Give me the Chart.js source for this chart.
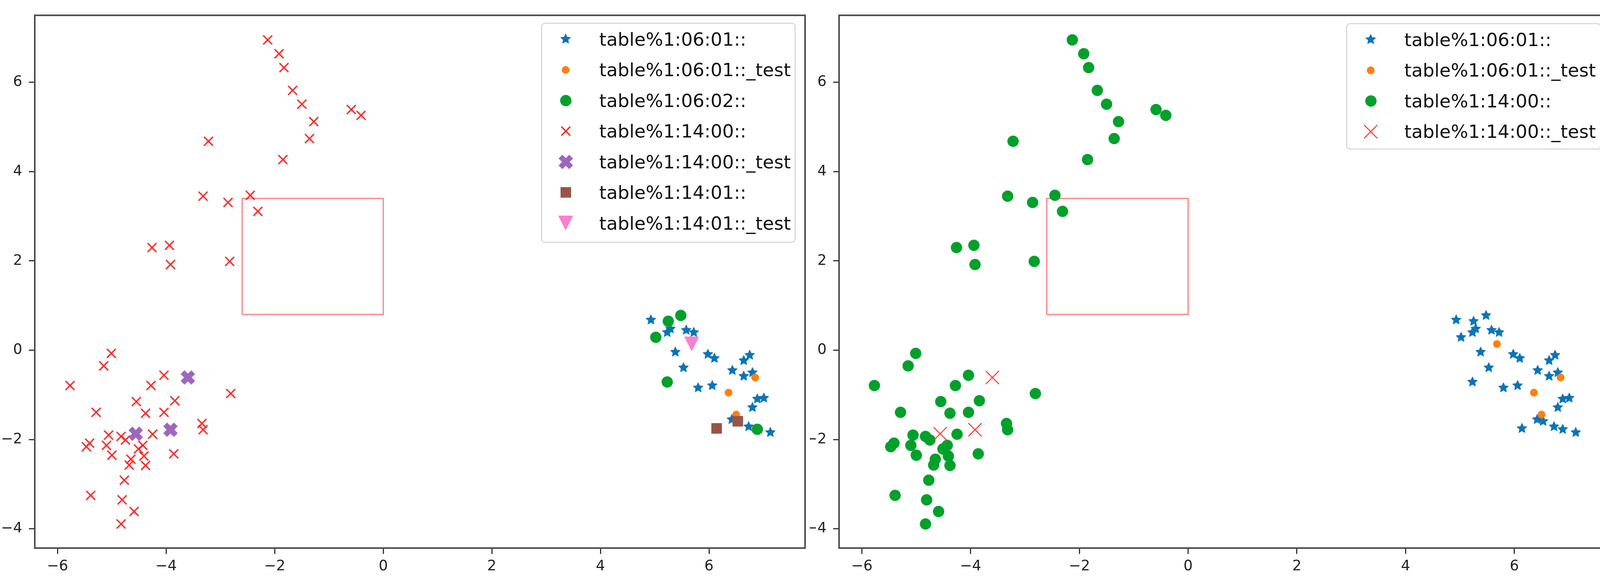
<!DOCTYPE html>
<html>
<head>
<meta charset="utf-8">
<script src="https://cdn.jsdelivr.net/npm/chart.js@4.4.1/dist/chart.umd.min.js"></script>
<style>
  html, body { margin: 0; padding: 0; background: #fff; }
  #page { position: relative; width: 4146px; height: 1495px; overflow: hidden; }
  .panel { position: absolute; top: 0; width: 2073px; height: 1495px; }
  .panel canvas.plot { position: absolute; left: 0; top: 0; }
  .legend { position: absolute; box-sizing: border-box; border: 3px solid #d9d9d9; border-radius: 10px;
            background: rgba(255,255,255,0.85); font-family: 'DejaVu Sans'; font-size: 47px; color: #111; }
  .legend .row { position: absolute; left: 0; right: 0; height: 70px; display: flex; align-items: center; }
  .legend .cell { width: 120px; display: flex; justify-content: center; align-items: center; }
  .legend .cell canvas { display: block; }
  .legend span { margin-left: 26px; white-space: nowrap; }
</style>
</head>
<body>
<div id="page">
  <div class="panel" id="leftPanel" style="left:0"><canvas class="plot" id="leftChart" width="2073" height="1495"></canvas></div>
  <div class="panel" id="rightPanel" style="left:2073px"><canvas class="plot" id="rightChart" width="2073" height="1495"></canvas></div>
</div>
<script>
// values
const xTicks = [-6, -4, -2, 0, 2, 4, 6];
const yTicks = [-4, -2, 0, 2, 4, 6];
const xMin = -6.42, xMax = 7.77, yMin = -4.43, yMax = 7.5;

// red square, corners in data units
const boxX = [-2.6, 0, 0, -2.6, -2.6];
const boxY = [0.8, 0.8, 3.4, 3.4, 0.8];

const t0601X = [4.93, 5.23, 5.29, 5.58, 5.72, 5.38, 5.98, 6.10, 5.53, 6.64, 6.75, 6.43, 6.64, 6.80, 5.80, 6.06, 6.89, 7.01, 6.80, 6.42, 6.73, 7.13];
const t0601Y = [0.68, 0.40, 0.48, 0.45, 0.40, -0.04, -0.09, -0.18, -0.39, -0.23, -0.11, -0.45, -0.58, -0.50, -0.84, -0.79, -1.09, -1.07, -1.28, -1.55, -1.71, -1.84];

const t0601TestX = [6.85, 6.36, 6.50];
const t0601TestY = [-0.61, -0.95, -1.44];

const t0602X = [5.25, 5.48, 5.02, 5.23, 6.89];
const t0602Y = [0.65, 0.78, 0.29, -0.71, -1.77];

const t1400X = [-2.13, -1.92, -1.83, -1.67, -1.50, -1.28, -1.36, -0.59, -0.41, -3.22, -1.85, -3.32, -2.86, -2.45, -2.31, -4.26, -3.94, -3.92, -2.83,
                -5.01, -5.15, -5.77, -4.04, -4.28, -4.55, -3.84, -5.29, -4.38, -4.04, -2.81, -3.34, -3.32, -5.06, -4.83, -4.75, -5.41, -5.47, -5.10,
                -4.25, -4.43, -4.51, -4.41, -5.00, -4.65, -4.68, -4.38, -3.86, -4.77, -5.39, -4.81, -4.59, -4.83];
const t1400Y = [6.95, 6.64, 6.33, 5.82, 5.51, 5.12, 4.74, 5.39, 5.26, 4.68, 4.27, 3.45, 3.31, 3.47, 3.11, 2.30, 2.35, 1.92, 1.99,
                -0.07, -0.35, -0.79, -0.56, -0.79, -1.15, -1.13, -1.39, -1.41, -1.39, -0.97, -1.64, -1.78, -1.90, -1.93, -2.01, -2.08, -2.16, -2.13,
                -1.88, -2.13, -2.21, -2.37, -2.35, -2.44, -2.57, -2.58, -2.32, -2.91, -3.25, -3.35, -3.61, -3.89];

const t1400TestX = [-3.60, -3.92, -4.56];
const t1400TestY = [-0.61, -1.78, -1.87];

const t1401X = [6.14, 6.53];
const t1401Y = [-1.75, -1.59];

const t1401TestX = [5.68];
const t1401TestY = [0.14];

// right panel: the same points, regrouped
const rStarX = [...t0601X, ...t0602X, ...t1401X];
const rStarY = [...t0601Y, ...t0602Y, ...t1401Y];
const rTestX = [...t0601TestX, ...t1401TestX];
const rTestY = [...t0601TestY, ...t1401TestY];

// marker images (matplotlib-like shapes)
function makeMarker(kind, half, color, lw) {
  const pad = 4;
  const s = Math.ceil(half * 2 + pad * 2);
  const c = document.createElement('canvas');
  c.width = s; c.height = s;
  const g = c.getContext('2d');
  const m = s / 2;
  g.fillStyle = color; g.strokeStyle = color; g.lineWidth = lw || 1;
  g.lineJoin = 'round';
  g.beginPath();
  if (kind === 'star') {
    for (let i = 0; i < 10; i++) {
      const r = i % 2 ? half * 0.47 : half;
      const a = -Math.PI / 2 + i * Math.PI / 5;
      g.lineTo(m + r * Math.cos(a), m + r * Math.sin(a));
    }
    g.closePath(); g.fill(); g.stroke();
  } else if (kind === 'dot') {
    g.arc(m, m, half, 0, Math.PI * 2); g.fill();
  } else if (kind === 'square') {
    g.rect(m - half, m - half, half * 2, half * 2); g.fill();
  } else if (kind === 'x') {
    g.moveTo(m - half, m - half); g.lineTo(m + half, m + half);
    g.moveTo(m + half, m - half); g.lineTo(m - half, m + half);
    g.stroke();
  } else if (kind === 'X') {
    const pts = [[0.25, 0], [0.5, 0.25], [0.75, 0], [1, 0.25], [0.75, 0.5], [1, 0.75], [0.75, 1], [0.5, 0.75], [0.25, 1], [0, 0.75], [0.25, 0.5], [0, 0.25]];
    pts.forEach(p => g.lineTo(m - half + p[0] * 2 * half, m - half + p[1] * 2 * half));
    g.closePath(); g.fill(); g.stroke();
  } else if (kind === 'tri_down') {
    g.moveTo(m - half, m - half); g.lineTo(m + half, m - half); g.lineTo(m, m + half);
    g.closePath(); g.fill();
  }
  return c;
}

const mStar = makeMarker('star', 13, '#0a74b8', 1.5);
const mOrange = makeMarker('dot', 10, '#ff7f0e');
const mGreen = makeMarker('dot', 14.5, '#00a02a');
const mRedX = makeMarker('x', 11.5, '#ff2424', 3.5);
const mPurple = makeMarker('X', 17.5, '#9e66bf', 1.5);
const mBrown = makeMarker('square', 13.5, '#9a5447');
const mPink = makeMarker('tri_down', 19, '#ff7fcc');
const mRedBig = makeMarker('x', 17, '#ff3838', 2.5);

const leftSeries = [
  { label: 'table%1:06:01::', x: t0601X, y: t0601Y, marker: mStar },
  { label: 'table%1:06:01::_test', x: t0601TestX, y: t0601TestY, marker: mOrange },
  { label: 'table%1:06:02::', x: t0602X, y: t0602Y, marker: mGreen },
  { label: 'table%1:14:00::', x: t1400X, y: t1400Y, marker: mRedX },
  { label: 'table%1:14:00::_test', x: t1400TestX, y: t1400TestY, marker: mPurple },
  { label: 'table%1:14:01::', x: t1401X, y: t1401Y, marker: mBrown },
  { label: 'table%1:14:01::_test', x: t1401TestX, y: t1401TestY, marker: mPink }
];
const rightSeries = [
  { label: 'table%1:06:01::', x: rStarX, y: rStarY, marker: mStar },
  { label: 'table%1:06:01::_test', x: rTestX, y: rTestY, marker: mOrange },
  { label: 'table%1:14:00::', x: t1400X, y: t1400Y, marker: mGreen },
  { label: 'table%1:14:00::_test', x: t1400TestX, y: t1400TestY, marker: mRedBig }
];

const minus = v => (v < 0 ? '\u2212' + Math.abs(v) : String(v));
const tickFont = { family: 'DejaVu Sans', size: 37 };

const framePlugin = {
  id: 'frame',
  afterDraw(chart) {
    const a = chart.chartArea, ctx = chart.ctx;
    ctx.save();
    ctx.strokeStyle = '#4a4a4a';
    ctx.lineWidth = 4;
    ctx.strokeRect(a.left, a.top, a.right - a.left, a.bottom - a.top);
    ctx.restore();
  }
};

function makePanel(canvasId, series, yWidth, padRight) {
  const datasets = series.map((s, i) => ({
    label: s.label,
    data: s.x.map((v, k) => ({ x: v, y: s.y[k] })),
    pointStyle: s.marker,
    pointRadius: 8,
    pointHoverRadius: 8,
    order: series.length - i
  }));
  datasets.push({
    data: boxX.map((v, k) => ({ x: v, y: boxY[k] })),
    showLine: true,
    borderColor: 'rgba(255,0,0,0.5)',
    borderWidth: 3,
    pointRadius: 0,
    order: 99
  });
  return new Chart(document.getElementById(canvasId), {
    type: 'scatter',
    data: { datasets: datasets },
    options: {
      responsive: false,
      animation: false,
      events: [],
      layout: { padding: { left: 0, right: padRight, top: 31, bottom: 0 } },
      plugins: { legend: { display: false }, tooltip: { enabled: false } },
      scales: {
        x: {
          type: 'linear', min: xMin, max: xMax,
          afterBuildTicks: ax => { ax.ticks = xTicks.map(v => ({ value: v })); },
          afterFit: ax => { ax.height = 92; },
          border: { display: false },
          grid: { drawOnChartArea: false, drawTicks: true, tickLength: 15, tickWidth: 3, tickColor: '#333' },
          ticks: { padding: 10, color: '#222', font: tickFont, callback: minus, maxRotation: 0, autoSkip: false }
        },
        y: {
          type: 'linear', min: yMin, max: yMax,
          afterBuildTicks: ax => { ax.ticks = yTicks.map(v => ({ value: v })); },
          afterFit: ax => { ax.width = yWidth; },
          border: { display: false },
          grid: { drawOnChartArea: false, drawTicks: true, tickLength: 15, tickWidth: 3, tickColor: '#333' },
          ticks: { padding: 17, color: '#222', font: tickFont, callback: minus, autoSkip: false }
        }
      }
    },
    plugins: [framePlugin]
  });
}

function buildLegend(chart, hostId, box) {
  const el = document.createElement('div');
  el.className = 'legend';
  Object.assign(el.style, { left: box.left + 'px', top: box.top + 'px', width: box.w + 'px', height: box.h + 'px' });
  chart.data.datasets.filter(d => d.label).forEach((d, i) => {
    const row = document.createElement('div');
    row.className = 'row';
    row.style.top = (4 + i * 78.5) + 'px';
    const cell = document.createElement('div');
    cell.className = 'cell';
    const c = document.createElement('canvas');
    c.width = d.pointStyle.width; c.height = d.pointStyle.height;
    c.getContext('2d').drawImage(d.pointStyle, 0, 0);
    cell.appendChild(c);
    const t = document.createElement('span');
    t.textContent = d.label;
    row.append(cell, t);
    el.appendChild(row);
  });
  document.getElementById(hostId).appendChild(el);
}

const leftChart = makePanel('leftChart', leftSeries, 89, 12);
const rightChart = makePanel('rightChart', rightSeries, 75, 23);
buildLegend(leftChart, 'leftPanel', { left: 1385, top: 58, w: 652, h: 564 });
buildLegend(rightChart, 'rightPanel', { left: 1373, top: 59, w: 653, h: 324 });
</script>
</body>
</html>
